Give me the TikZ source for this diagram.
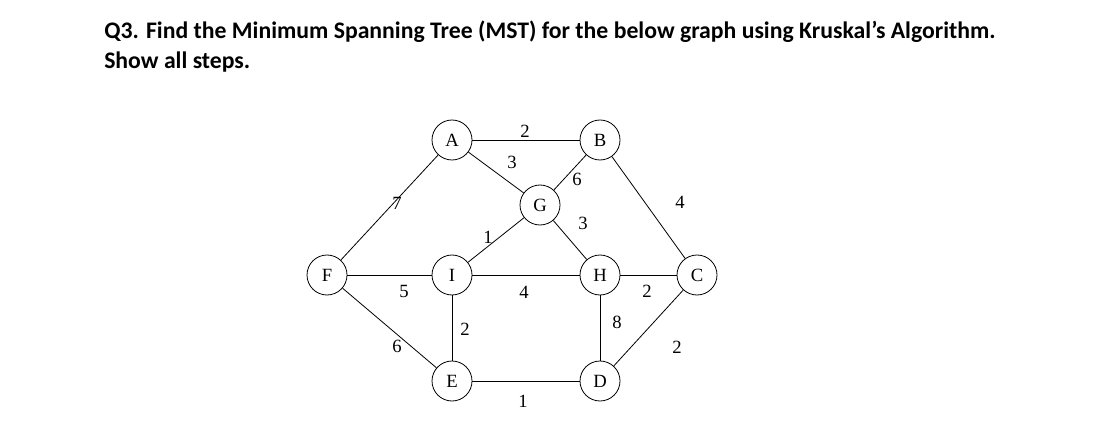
\documentclass[tikz,border=0pt]{standalone}
\usepackage{fontspec}
\setmainfont{Liberation Serif}
\newfontfamily\titlefont{Carlito}
\begin{document}
\begin{tikzpicture}[x=0.75pt,y=-0.75pt,
  v/.style={circle,draw,line width=0.6pt,minimum size=30pt,inner sep=0pt,font=\fontsize{14}{16}\selectfont},
  e/.style={line width=0.6pt},
  w/.style={font=\fontsize{14}{16}\selectfont,inner sep=1pt}]
\useasboundingbox (0,0) rectangle (1094,438);
\node[anchor=base west,font=\titlefont\bfseries\fontsize{17.8}{20}\selectfont,inner sep=0pt] (t1) at (104,39) {Q3. Find the Minimum Spanning Tree (MST) for the below graph using Kruskal’s Algorithm.};
\node[anchor=base west,font=\titlefont\bfseries\fontsize{17.8}{20}\selectfont,inner sep=0pt] (t2) at (104,69) {Show all steps.};
\node[v] (A) at (452,140) {A};
\node[v] (B) at (600,140) {B};
\node[v] (G) at (540,205) {G};
\node[v] (F) at (327,275) {F};
\node[v] (I) at (452,275) {I};
\node[v] (H) at (600,275) {H};
\node[v] (C) at (697,275) {C};
\node[v] (E) at (452,381) {E};
\node[v] (D) at (600,381) {D};
\draw[e] (A)--(B); \draw[e] (A)--(G); \draw[e] (B)--(G);
\draw[e] (F)--(A); \draw[e] (B)--(C); \draw[e] (I)--(G); \draw[e] (G)--(H);
\draw[e] (F)--(I); \draw[e] (I)--(H); \draw[e] (H)--(C);
\draw[e] (I)--(E); \draw[e] (H)--(D); \draw[e] (F)--(E); \draw[e] (C)--(D); \draw[e] (E)--(D);
\node[w] (w1) at (525,131) {2};
\node[w] (w2) at (512,162) {3};
\node[w] (w3) at (577,179) {6};
\node[w] (w4) at (397,203) {7};
\node[w] (w5) at (680,202) {4};
\node[w] (w6) at (488,237) {1};
\node[w] (w7) at (583,223) {3};
\node[w] (w8) at (404,291) {5};
\node[w] (w9) at (524,292) {4};
\node[w] (w10) at (647,291) {2};
\node[w] (w11) at (465,329) {2};
\node[w] (w12) at (617,322) {8};
\node[w] (w13) at (397,346) {6};
\node[w] (w14) at (677,347) {2};
\node[w] (w15) at (523,401) {1};
\end{tikzpicture}
\end{document}
